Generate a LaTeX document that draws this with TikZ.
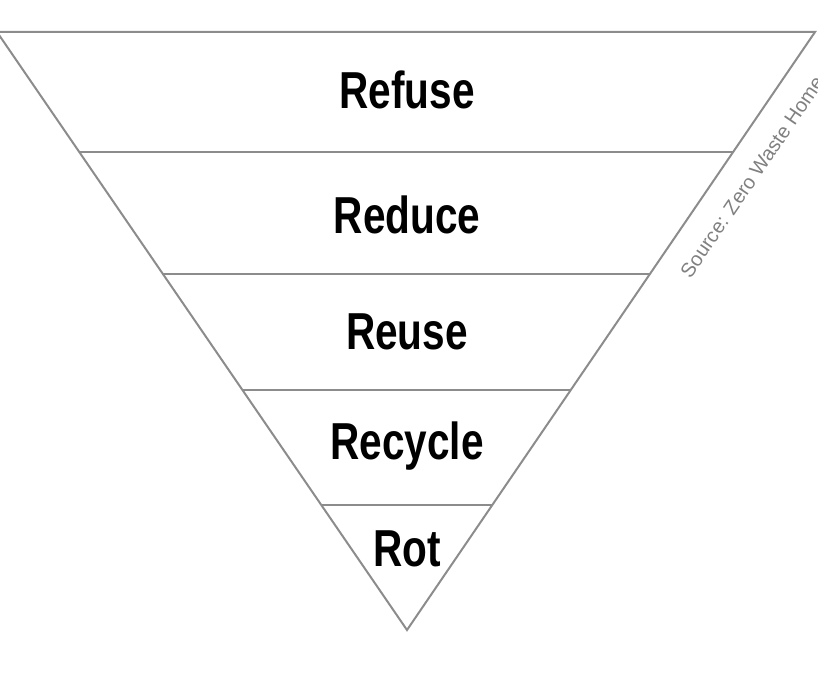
\documentclass[tikz,border=0pt]{standalone}
\usepackage{fontspec}
\setsansfont{Liberation Sans}[FakeStretch=0.78]
\newfontfamily\fontefont{Liberation Sans}
\usetikzlibrary{calc}
\begin{document}
\begin{tikzpicture}[x=1pt, y=-1pt,
  livello/.style={font=\sffamily\bfseries\fontsize{52}{56}\selectfont, anchor=base},
  bordo/.style={draw=black!45, line width=2pt}]

  \useasboundingbox (0,0) rectangle (818,677);

  % --- triangolo ---
  \coordinate (tl) at (-3,32);
  \coordinate (tr) at (815,32);
  \coordinate (apice) at (407,630);
  \draw[bordo, line join=miter] (tl) -- (tr) -- (apice) -- cycle;

  % --- divisioni ---
  \coordinate (s1) at ($(tl)!0.2007!(apice)$);
  \coordinate (d1) at ($(tr)!0.2007!(apice)$);
  \coordinate (s2) at ($(tl)!0.4047!(apice)$);
  \coordinate (d2) at ($(tr)!0.4047!(apice)$);
  \coordinate (s3) at ($(tl)!0.5987!(apice)$);
  \coordinate (d3) at ($(tr)!0.5987!(apice)$);
  \coordinate (s4) at ($(tl)!0.7910!(apice)$);
  \coordinate (d4) at ($(tr)!0.7910!(apice)$);
  \draw[bordo] (s1) -- (d1);
  \draw[bordo] (s2) -- (d2);
  \draw[bordo] (s3) -- (d3);
  \draw[bordo] (s4) -- (d4);

  % --- livelli ---
  \node[livello] (refuse)  at (407,108) {Refuse};
  \node[livello] (reduce)  at (407,233) {Reduce};
  \node[livello] (reuse)   at (407,349) {Reuse};
  \node[livello] (recycle) at (407,459) {Recycle};
  \node[livello] (rot)     at (407,566) {Rot};

  % --- fonte ---
  \node[rotate=55.7, text=black!50, font=\fontefont\fontsize{20}{22}\selectfont]
    (fonte) at (752,177) {Source: Zero Waste Home};

\end{tikzpicture}
\end{document}
